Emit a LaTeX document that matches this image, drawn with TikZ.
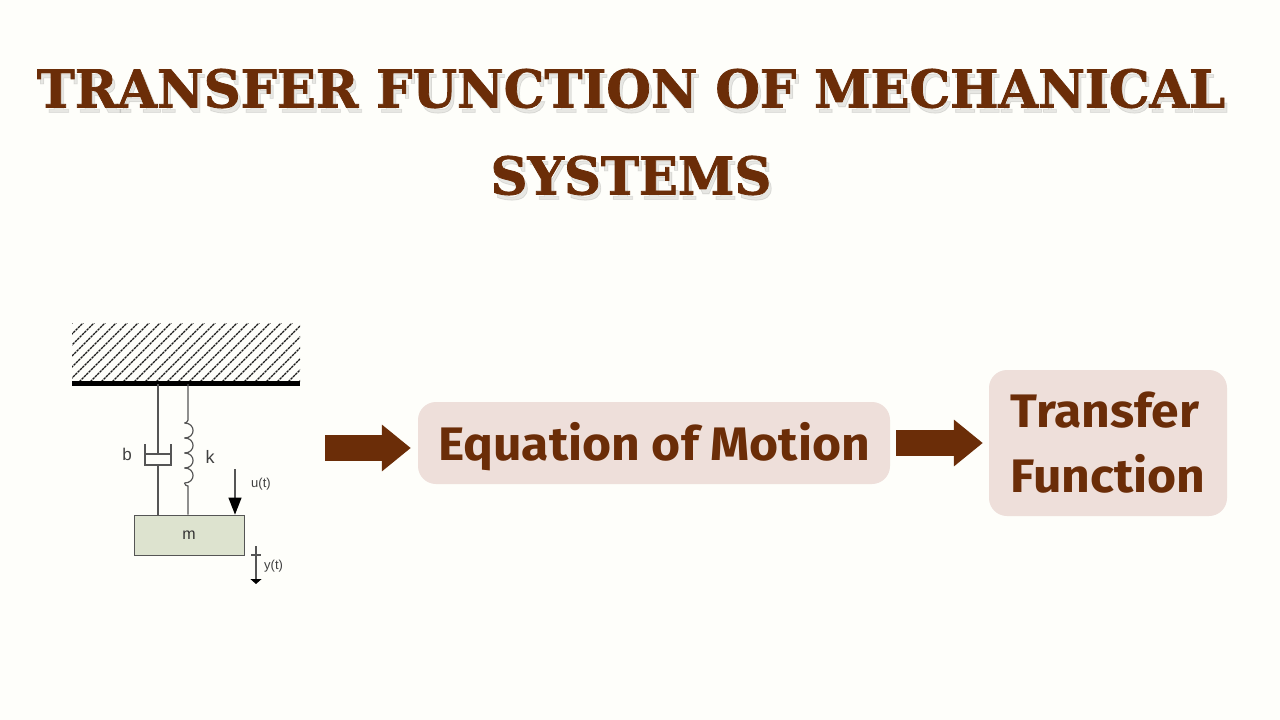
\documentclass[tikz,border=0pt]{standalone}
\usepackage{fontspec}
\setmainfont{Liberation Sans}
\newfontfamily\titlefont[BoldFont=DejaVu Serif Bold,BoldFeatures={FakeBold=1.5}]{DejaVu Serif}
\newfontfamily\boxfont[FakeStretch=1.06]{Fira Sans Bold}
\usetikzlibrary{arrows.meta}
\definecolor{brownink}{HTML}{6B2D08}
\definecolor{boxpink}{HTML}{EEDFDA}
\definecolor{papercol}{HTML}{FEFEFA}
\definecolor{massgreen}{HTML}{DDE3CF}
\definecolor{lineink}{HTML}{555555}
\tikzset{
  titletext/.style={align=center,inner sep=0,font=\titlefont\bfseries\fontsize{52}{87}\selectfont},
  roundbox/.style={fill=boxpink,rounded corners=18pt,text=brownink,
    inner sep=0,font=\boxfont\fontsize{47}{65}\selectfont},
  blockarrow/.style={line width=26pt,color=brownink,-{Triangle[length=29pt,width=45pt]}},
  thinline/.style={color=lineink,line width=1.2pt},
  smalltext/.style={inner sep=0,color=black!75},
}
\newcommand{\titlelines}{TRANSFER FUNCTION OF MECHANICAL\\SYSTEMS}
\begin{document}
\begin{tikzpicture}[x=1pt,y=-1pt]
        \useasboundingbox[fill=papercol] (0,0) rectangle (1280,720) ;
        % title
        \node[titletext,text=black,opacity=0.09,xscale=0.983] (titleshadow) at (634,137) {\titlelines} ;
        \node[titletext,text=brownink,xscale=0.983] (title) at (631,132) {\titlelines} ;
        % wall
        \begin{scope}
          \clip (72,323) rectangle (300,382) ;
          \foreach \x in {11,22,...,308}
            \draw[black!90,line width=1.4pt,dash pattern=on 2.5pt off 0.8pt] (\x,384) -- (\x+63,321) ;
        \end{scope}
        \coordinate (wallb) at (158,384) ;
        \coordinate (wallk) at (188,384) ;
        \draw[black,line width=4.5pt] (72,383.5) -- (300,383.5) ;
        % mass
        \node[draw=lineink,fill=massgreen,line width=0.8pt,minimum width=110pt,minimum height=40pt,
          inner sep=0,font=\fontsize{16}{16}\selectfont,text=black!80] (mass) at (189,535) {m} ;
        % damper
        \coordinate (pistonup) at (158,454) ;
        \coordinate (pistondown) at (158,465) ;
        \draw[thinline] (wallb) -- (pistonup) ;
        \draw[thinline] (145,444) -- (145,465) -- (171,465) -- (171,444) ;
        \draw[thinline] (145,454) -- (171,454) ;
        \draw[thinline] (pistondown) -- (mass.north -| pistondown) ;
        \node[smalltext,font=\fontsize{17}{17}\selectfont] (blabel) at (127,454) {b} ;
        % spring
        \coordinate (springtop) at (188,420) ;
        \coordinate (springend) at (188,486) ;
        \draw[thinline] (wallk) -- (springtop) to[bend left=40] (184.5,423) ;
        \foreach \y/\z in {423/438,438/453,453/468,468/483}
          \draw[thinline] (184.5,\y) to[out=0,in=0,looseness=1.95] (184.5,\z) ;
        \draw[thinline] (184.5,483) to[bend right=40] (springend) -- (mass.north -| springend) ;
        \node[smalltext,font=\fontsize{18}{18}\selectfont] (klabel) at (210,457) {k} ;
        % input and output
        \coordinate (ustart) at (235,469) ;
        \draw[thinline,-{Triangle[length=17pt,width=13pt,fill=black,color=black]}] (ustart) -- (mass.north -| ustart) ;
        \node[smalltext,anchor=west,font=\fontsize{13}{13}\selectfont] (ulabel) at (251,484) {u(t)} ;
        \coordinate (ystart) at (256,546) ;
        \coordinate (yend) at (256,584) ;
        \draw[thinline,-{Triangle[length=5pt,width=11pt,fill=black,color=black]}] (ystart) -- (yend) ;
        \draw[thinline] (251,555) -- (261,555) ;
        \node[smalltext,anchor=west,font=\fontsize{13}{13}\selectfont] (ylabel) at (264,566) {y(t)} ;
        % boxes and arrows
        \node[roundbox,align=center,minimum width=472pt,minimum height=82pt] (eqn) at (654,443) {\raisebox{-17pt}[0pt][0pt]{Equation of Motion}} ;
        \node[roundbox,align=left,minimum width=238pt,minimum height=146pt] (tf) at (1108,443) {Transfer\\Function} ;
        \coordinate (plant) at (325,448) ;
        \draw[blockarrow,shorten >=7pt] (plant) -- (eqn.west |- plant) ;
        \draw[blockarrow,shorten <=6pt,shorten >=6pt] (eqn.east) -- (tf.west) ;
      \end{tikzpicture}
\end{document}
